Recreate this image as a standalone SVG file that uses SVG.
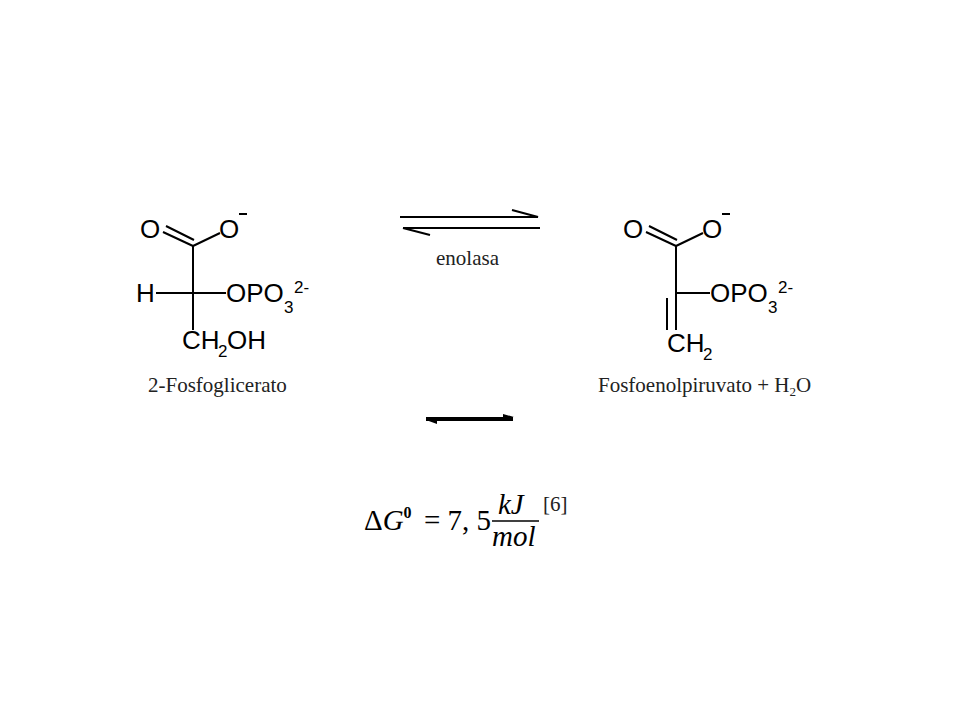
<svg xmlns="http://www.w3.org/2000/svg" width="960" height="720" viewBox="0 0 960 720">
<style>
.b{stroke:#000;stroke-width:2;fill:none}
.s{font-family:"Liberation Sans",Arial,sans-serif;font-size:26px;fill:#000}
.sub{font-family:"Liberation Sans",Arial,sans-serif;font-size:17px;fill:#000}
.r{font-family:"Liberation Serif","Times New Roman",serif;font-size:21px;fill:#222}
.m{font-family:"Liberation Serif","Times New Roman",serif;font-style:italic;font-size:29px;fill:#000}
</style>
<rect width="960" height="720" fill="#fff"/>
<g id="fosfoglicerato">
<text class="s" x="140" y="238">O</text>
<text class="s" x="219" y="238">O</text>
<path class="b" d="M239 214 H247"/>
<path class="b" d="M163 232 L193 246 M166 226 L194 240 M193 246 L220 233 M193 246 V330 M156 293 H226"/>
<text class="s" x="136" y="302">H</text>
<text class="s" x="226" y="302">OPO</text>
<text class="sub" x="284" y="313">3</text>
<text class="sub" x="294" y="293">2-</text>
<text class="s" x="182" y="349">CH</text>
<text class="sub" x="218" y="357">2</text>
<text class="s" x="227" y="349">OH</text>
<text class="r" x="148" y="392">2-Fosfoglicerato</text>
</g>
<g id="fosfoenolpiruvato">
<text class="s" x="623" y="238">O</text>
<text class="s" x="702" y="238">O</text>
<path class="b" d="M722 214 H730"/>
<path class="b" d="M646 232 L676 246 M649 226 L677 240 M676 246 V330 M676 246 L703 233 M667 298 V330 M676 293 H710"/>
<text class="s" x="710" y="302">OPO</text>
<text class="sub" x="768" y="313">3</text>
<text class="sub" x="778" y="293">2-</text>
<text class="s" x="667" y="352">CH</text>
<text class="sub" x="703" y="360">2</text>
<text class="r" x="598" y="392">Fosfoenolpiruvato + H<tspan font-size="13" dy="4">2</tspan><tspan dy="-4">O</tspan></text>
</g>
<g id="connectors">
<path class="b" d="M400 217 H538 L512 210"/>
<path class="b" d="M403 228 H540 M403 228 L430 235"/>
<text class="r" x="436" y="265">enolasa</text>
<path stroke="#000" stroke-width="4" fill="none" d="M426 419 H513"/>
<path d="M503 414 L514 417 L503 418 Z M426 420 L437 424 L437 420 Z" fill="#000"/>
</g>
<g id="formula">
<text class="m" x="364" y="530"><tspan font-style="normal">Δ</tspan>G<tspan font-style="normal" font-weight="bold" font-size="16" dy="-12">0</tspan><tspan font-style="normal" dy="12" x="424">= 7, 5</tspan></text>
<text class="m" x="498" y="514">kJ</text>
<line x1="492" y1="521" x2="539" y2="521" stroke="#000" stroke-width="1.5"/>
<text class="m" x="492" y="546">mol</text>
<text class="r" x="543" y="511" font-size="18">[6]</text>
</g>
</svg>
